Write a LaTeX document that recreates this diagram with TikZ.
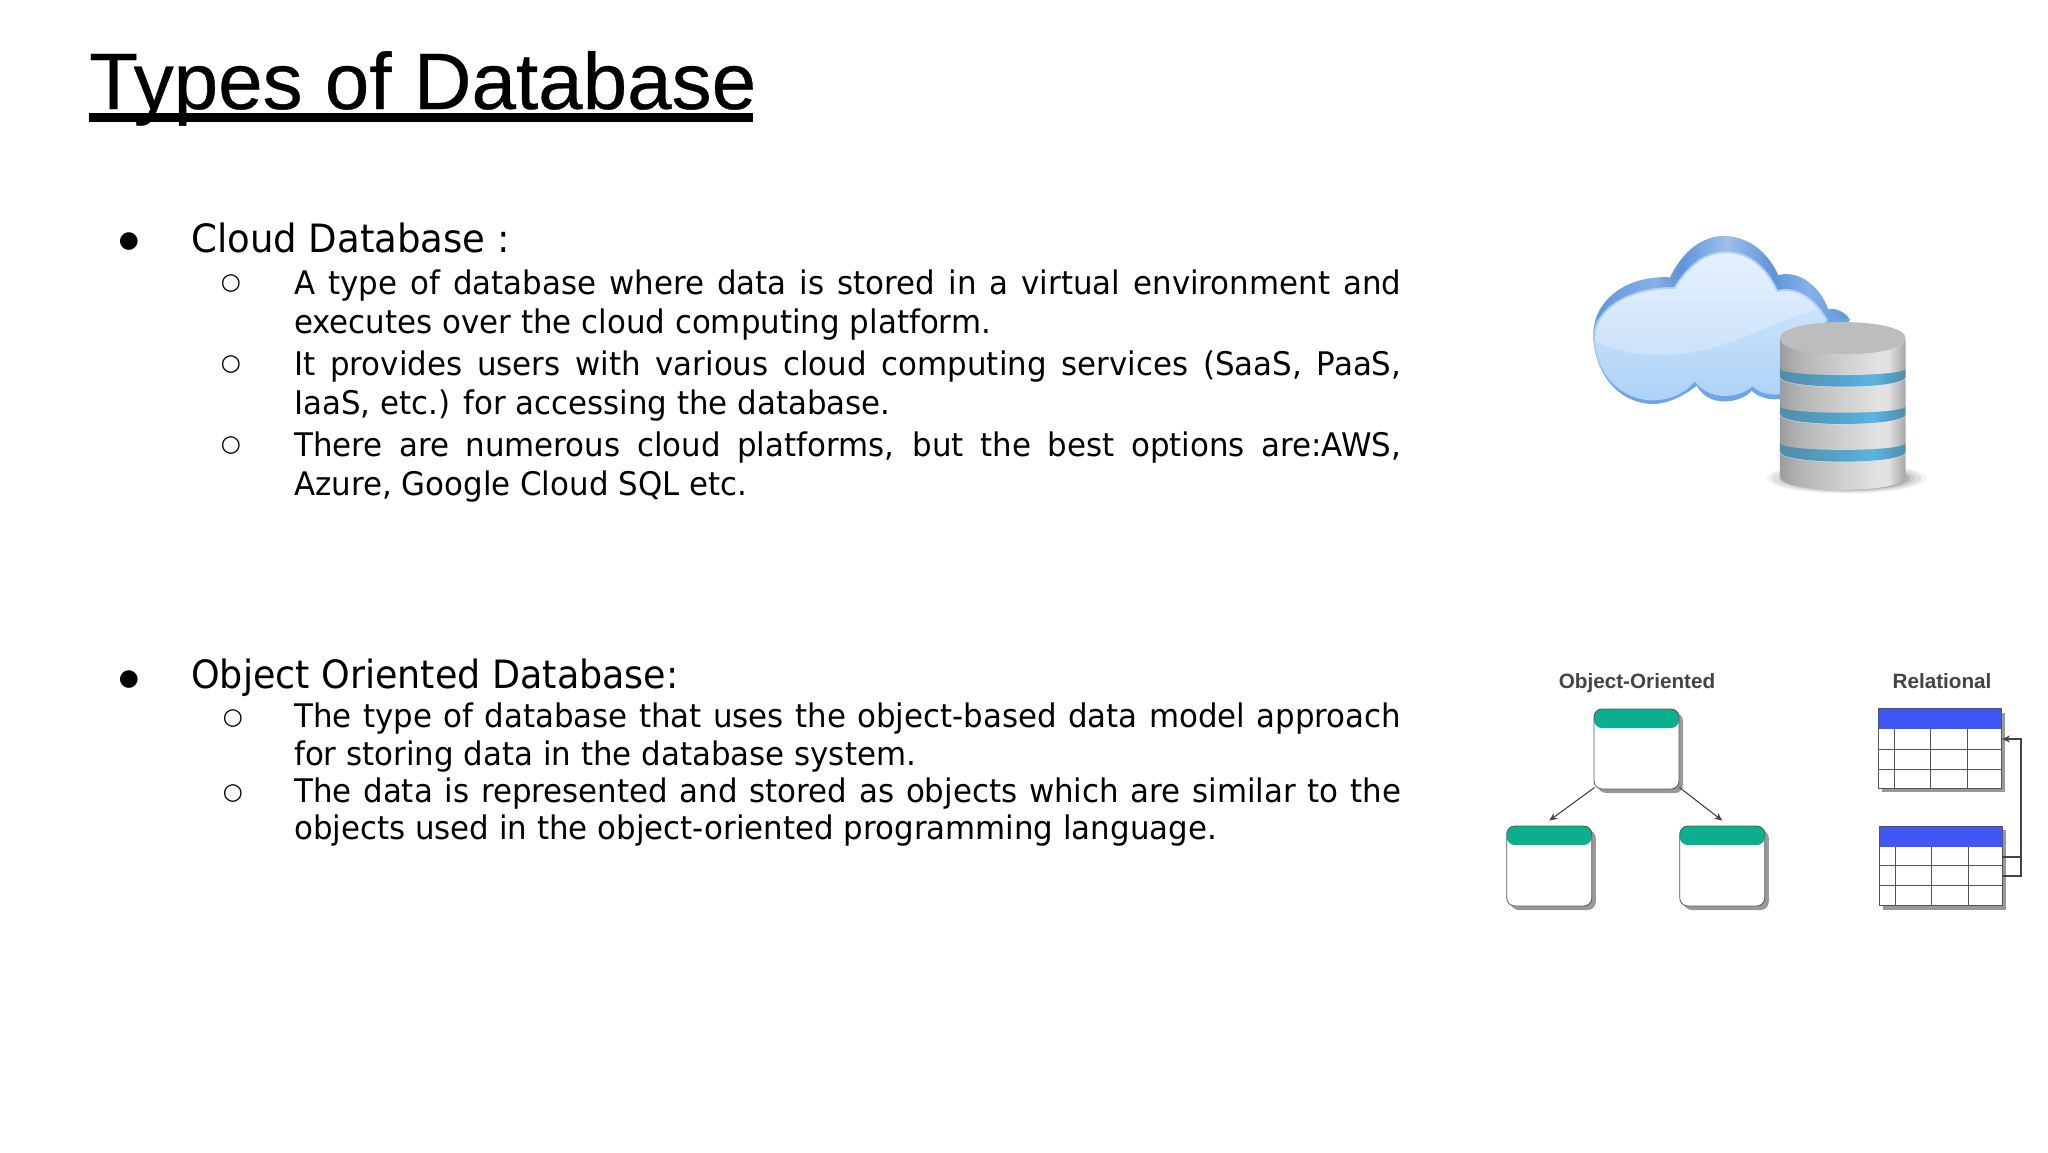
\documentclass[tikz,border=0pt]{standalone}
\usepackage{fontspec}
\setmainfont{Liberation Sans}
\newfontfamily\ttl[FakeBold=0.4]{Liberation Sans}
\newfontfamily\tah[FakeStretch=0.95]{DejaVu Sans}
\newfontfamily\tahn[FakeStretch=0.935]{DejaVu Sans}
\newfontfamily\sym{DejaVu Sans}
\usetikzlibrary{shadows,arrows.meta}
\definecolor{ooteal}{HTML}{0BAE8D}
\definecolor{relblue}{HTML}{3F58F5}
\definecolor{lbl}{HTML}{444444}
\definecolor{edgegr}{HTML}{555555}
\definecolor{cgA}{HTML}{9C9C9C}
\definecolor{cgB}{HTML}{B4B4B4}
\definecolor{cgC}{HTML}{CFCFCF}
\definecolor{cgD}{HTML}{E2E2E2}
\definecolor{cgE}{HTML}{A6A6A6}
\definecolor{cgTop}{HTML}{BDBDBD}
\definecolor{cbA}{HTML}{508CAA}
\definecolor{cbB}{HTML}{55A5CD}
\definecolor{cbC}{HTML}{5AB4E1}
\definecolor{clA}{HTML}{5F94DA}
\definecolor{clL}{HTML}{9DBFEA}
\definecolor{clM}{HTML}{86B0E8}
\definecolor{clC}{HTML}{6EA5E6}
\definecolor{clRim}{HTML}{AFD2F5}
\definecolor{clTop}{HTML}{DEECFC}
\definecolor{clBot}{HTML}{ACD2F8}
\pgfdeclarehorizontalshading{cylgray}{100bp}{color(0bp)=(cgA);color(25bp)=(cgA);color(33bp)=(cgB);color(50bp)=(cgC);color(64bp)=(cgD);color(68bp)=(cgD);color(75bp)=(cgE);color(100bp)=(cgE)}
\pgfdeclarehorizontalshading{cylblue}{100bp}{color(0bp)=(cbA);color(25bp)=(cbA);color(50bp)=(cbB);color(62bp)=(cbC);color(75bp)=(cbA);color(100bp)=(cbA)}
\pgfdeclarehorizontalshading{cloudrim}{100bp}{color(0bp)=(clA);color(25bp)=(clA);color(37bp)=(clM);color(42bp)=(clA);color(51bp)=(clL);color(60bp)=(clA);color(67bp)=(clM);color(75bp)=(clA);color(100bp)=(clA)}
\tikzset{
  head/.style={anchor=base west,inner sep=0pt,font=\tah\fontsize{39}{39}\selectfont},
  sub/.style={anchor=base west,inner sep=0pt,font=\tah\fontsize{32.5}{32.5}\selectfont},
  big/.style={anchor=base,inner sep=0pt,font=\sym\fontsize{23}{23}\selectfont},
  small/.style={anchor=base,inner sep=0pt,font=\sym\fontsize{23}{23}\selectfont},
  lab/.style={anchor=base,inner sep=0pt,text=lbl,font=\bfseries\fontsize{20.7}{20.7}\selectfont},
  obj/.style={draw=edgegr,line width=0.8pt,fill=white,rounded corners=8pt,minimum width=85pt,minimum height=80pt,inner sep=0pt,
    drop shadow={shadow xshift=4pt,shadow yshift=-4pt,fill=gray,opacity=.8},
    path picture={\fill[ooteal] (path picture bounding box.north west) rectangle ([yshift=-19pt]path picture bounding box.north east);}},
  tbl/.style={draw=edgegr,line width=0.8pt,fill=white,minimum width=123pt,minimum height=79.5pt,inner sep=0pt,
    drop shadow={shadow xshift=4pt,shadow yshift=-4pt,fill=gray,opacity=.8},
    path picture={\fill[relblue] (path picture bounding box.north west) rectangle ([yshift=-20.5pt]path picture bounding box.north east);}},
  gridl/.style={draw=edgegr,line width=0.8pt},
  arr/.style={draw=lbl,line width=1.1pt,-{Stealth[length=8pt,width=7pt]}},
  conn/.style={draw=lbl,line width=1.1pt}
}
\newcommand{\jline}[1]{\hbox to 1107pt{#1}}
\newcommand{\cloudouter}{(330,172) .. controls (370,90) and (430,48) .. (490,48) .. controls (560,48) and (620,90) .. (655,165) .. controls (720,150) and (780,200) .. (805,268) .. controls (830,262) and (860,280) .. (870,300) -- (700,520) -- (660,537) .. controls (620,542) and (590,527) .. (575,512) .. controls (550,545) and (450,570) .. (410,497) .. controls (370,530) and (320,552) .. (280,552) .. controls (170,552) and (100,450) .. (100,345) .. controls (100,240) and (200,165) .. (330,172) -- cycle}
\newcommand{\cloudinner}{(345,207) .. controls (400,120) and (450,100) .. (500,100) .. controls (570,100) and (620,150) .. (650,217) .. controls (710,200) and (760,240) .. (797,300) -- (700,505) -- (660,517) .. controls (620,522) and (590,507) .. (578,490) .. controls (550,525) and (450,545) .. (405,475) .. controls (370,520) and (320,535) .. (280,535) .. controls (180,535) and (107,450) .. (107,350) .. controls (107,270) and (210,205) .. (345,207) -- cycle}
% top side y, bottom side y, depth control of bottom edge
\newcommand{\cyldisk}[3]{%
  \shade[shading=cylgray] (660,#1) .. controls (660,#1+40) and (1037,#1+40) .. (1037,#1) -- (1037,#2) .. controls (1037,#2+#3) and (660,#2+#3) .. (660,#2) -- cycle;
  \draw[cgD,line width=0.9pt] (660,#1) .. controls (660,#1+40) and (1037,#1+40) .. (1037,#1);}
% band from the bottom edge of one disk to the top edge of the next
\newcommand{\cylband}[2]{%
  \shade[shading=cylblue] (660,#1) -- (660,#2) .. controls (660,#2+40) and (1037,#2+40) .. (1037,#2) -- (1037,#1) -- cycle;}
\begin{document}
\begin{tikzpicture}[x=1pt,y=-1pt]
\useasboundingbox (0,0) rectangle (2048,1152);
\fill[white] (0,0) rectangle (2048,1152);
% title
\node[anchor=base west,inner sep=0pt,font=\ttl\fontsize{80}{80}\selectfont] (title) at (89,109) {Types of Database};
\fill (89,113) rectangle (753,121.5);
% section 1
\node[big] (b1) at (129,247.5) {●};
\node[head] (h1) at (191,252) {Cloud Database :};
\node[small] (c1) at (231,289.5) {○};
\node[sub] (l1) at (294,294) {\jline{A type of database where data is stored in a virtual environment and}};
\node[sub] (l2) at (294,333) {executes over the cloud computing platform.};
\node[small] (c2) at (231,370.5) {○};
\node[sub] (l3) at (294,375) {\jline{It provides users with various cloud computing services (SaaS, PaaS,}};
\node[sub] (l4) at (294,414) {IaaS, etc.) for accessing the database.};
\node[small] (c3) at (231,451.5) {○};
\node[sub] (l5) at (294,456) {\jline{There are numerous cloud platforms, but the best options are:AWS,}};
\node[sub] (l6) at (294,495) {Azure, Google Cloud SQL etc.};
% section 2
\node[big] (b2) at (129,685) {●};
\node[head,font=\tahn\fontsize{39}{39}\selectfont] (h2) at (191,688) {Object Oriented Database:};
\node[small] (c4) at (233,724) {○};
\node[sub] (m1) at (294,727) {\jline{The type of database that uses the object-based data model approach}};
\node[sub] (m2) at (294,765) {for storing data in the database system.};
\node[small] (c5) at (233,799) {○};
\node[sub] (m3) at (294,802) {\jline{The data is represented and stored as objects which are similar to the}};
\node[sub] (m4) at (294,839.5) {objects used in the object-oriented programming language.};
% cloud + database icon
\begin{scope}[shift={(1560,220)},x=0.3333pt,y=-0.3333pt]
  \foreach \r/\o in {240/.05,225/.07,205/.09,190/.12,175/.14}{
    \fill[black,opacity=\o] (860,775) ellipse [x radius=\r,y radius=\r*0.19];}
  \begin{scope}
    \clip (90,30) rectangle (900,300);
    \shade[shading=cloudrim] \cloudouter;
  \end{scope}
  \begin{scope}
    \clip (90,300) rectangle (900,600);
    \fill[clC] \cloudouter;
  \end{scope}
  \draw[clRim,line width=4pt] \cloudinner;
  \shade[top color=clTop,bottom color=clBot] \cloudinner;
  \begin{scope}
    \clip \cloudinner;
    \fill[white,opacity=.25] (100,60) rectangle (900,250);
    \fill[white,opacity=.25] (100,250) -- (900,250) -- (800,262) .. controls (620,300) and (520,400) .. (300,405) .. controls (220,405) and (140,385) .. (100,360) -- cycle;
  \end{scope}
  % cylinder, bottom to top
  \cyldisk{695}{770}{53}
  \cylband{668}{695}
  \cyldisk{582}{668}{29}
  \cylband{558}{582}
  \cyldisk{470}{558}{27}
  \cylband{445}{470}
  \shade[shading=cylgray] (660,355) .. controls (660,420) and (1037,420) .. (1037,355) -- (1037,445) .. controls (1037,472) and (660,472) .. (660,445) -- cycle;
  \fill[cgTop] (660,355) .. controls (660,290) and (1037,290) .. (1037,355) .. controls (1037,420) and (660,420) .. (660,355) -- cycle;
\end{scope}
% object-oriented diagram
\node[lab] (lobj) at (1637,688) {Object-Oriented};
\node[lab] (lrel) at (1942,688) {Relational};
\node[obj] (ot) at (1636.5,749) {};
\node[obj] (ol) at (1549.25,866) {};
\node[obj] (or) at (1722.25,866) {};
\draw[arr] ([shift={(1pt,2pt)}]ot.south west) -- ([yshift=5pt]ol.north);
\draw[arr] ([shift={(0pt,2pt)}]ot.south east) -- ([yshift=5pt]or.north);
% relational diagram
\node[tbl] (t1) at (1939.5,748.5) {};
\node[tbl] (t2) at (1940.5,866) {};
\foreach \x in {1894.5,1930,1967} \draw[gridl] (\x,729) -- (\x,788);
\foreach \y in {749,769} \draw[gridl] (1878,\y) -- (2001,\y);
\foreach \x in {1895.5,1931,1968} \draw[gridl] (\x,846.5) -- (\x,905.5);
\foreach \y in {865,885} \draw[gridl] (1879,\y) -- (2002,\y);
\coordinate (t2a) at (2002,857);
\coordinate (t2b) at (2002,876);
\coordinate (bend) at (2021,739);
\coordinate (t1in) at (2002,739);
\draw[conn] (t2a) -- (bend |- t2a);
\draw[arr] (t2b) -- (bend |- t2b) -- (bend) -- (t1in);
\end{tikzpicture}
\end{document}
